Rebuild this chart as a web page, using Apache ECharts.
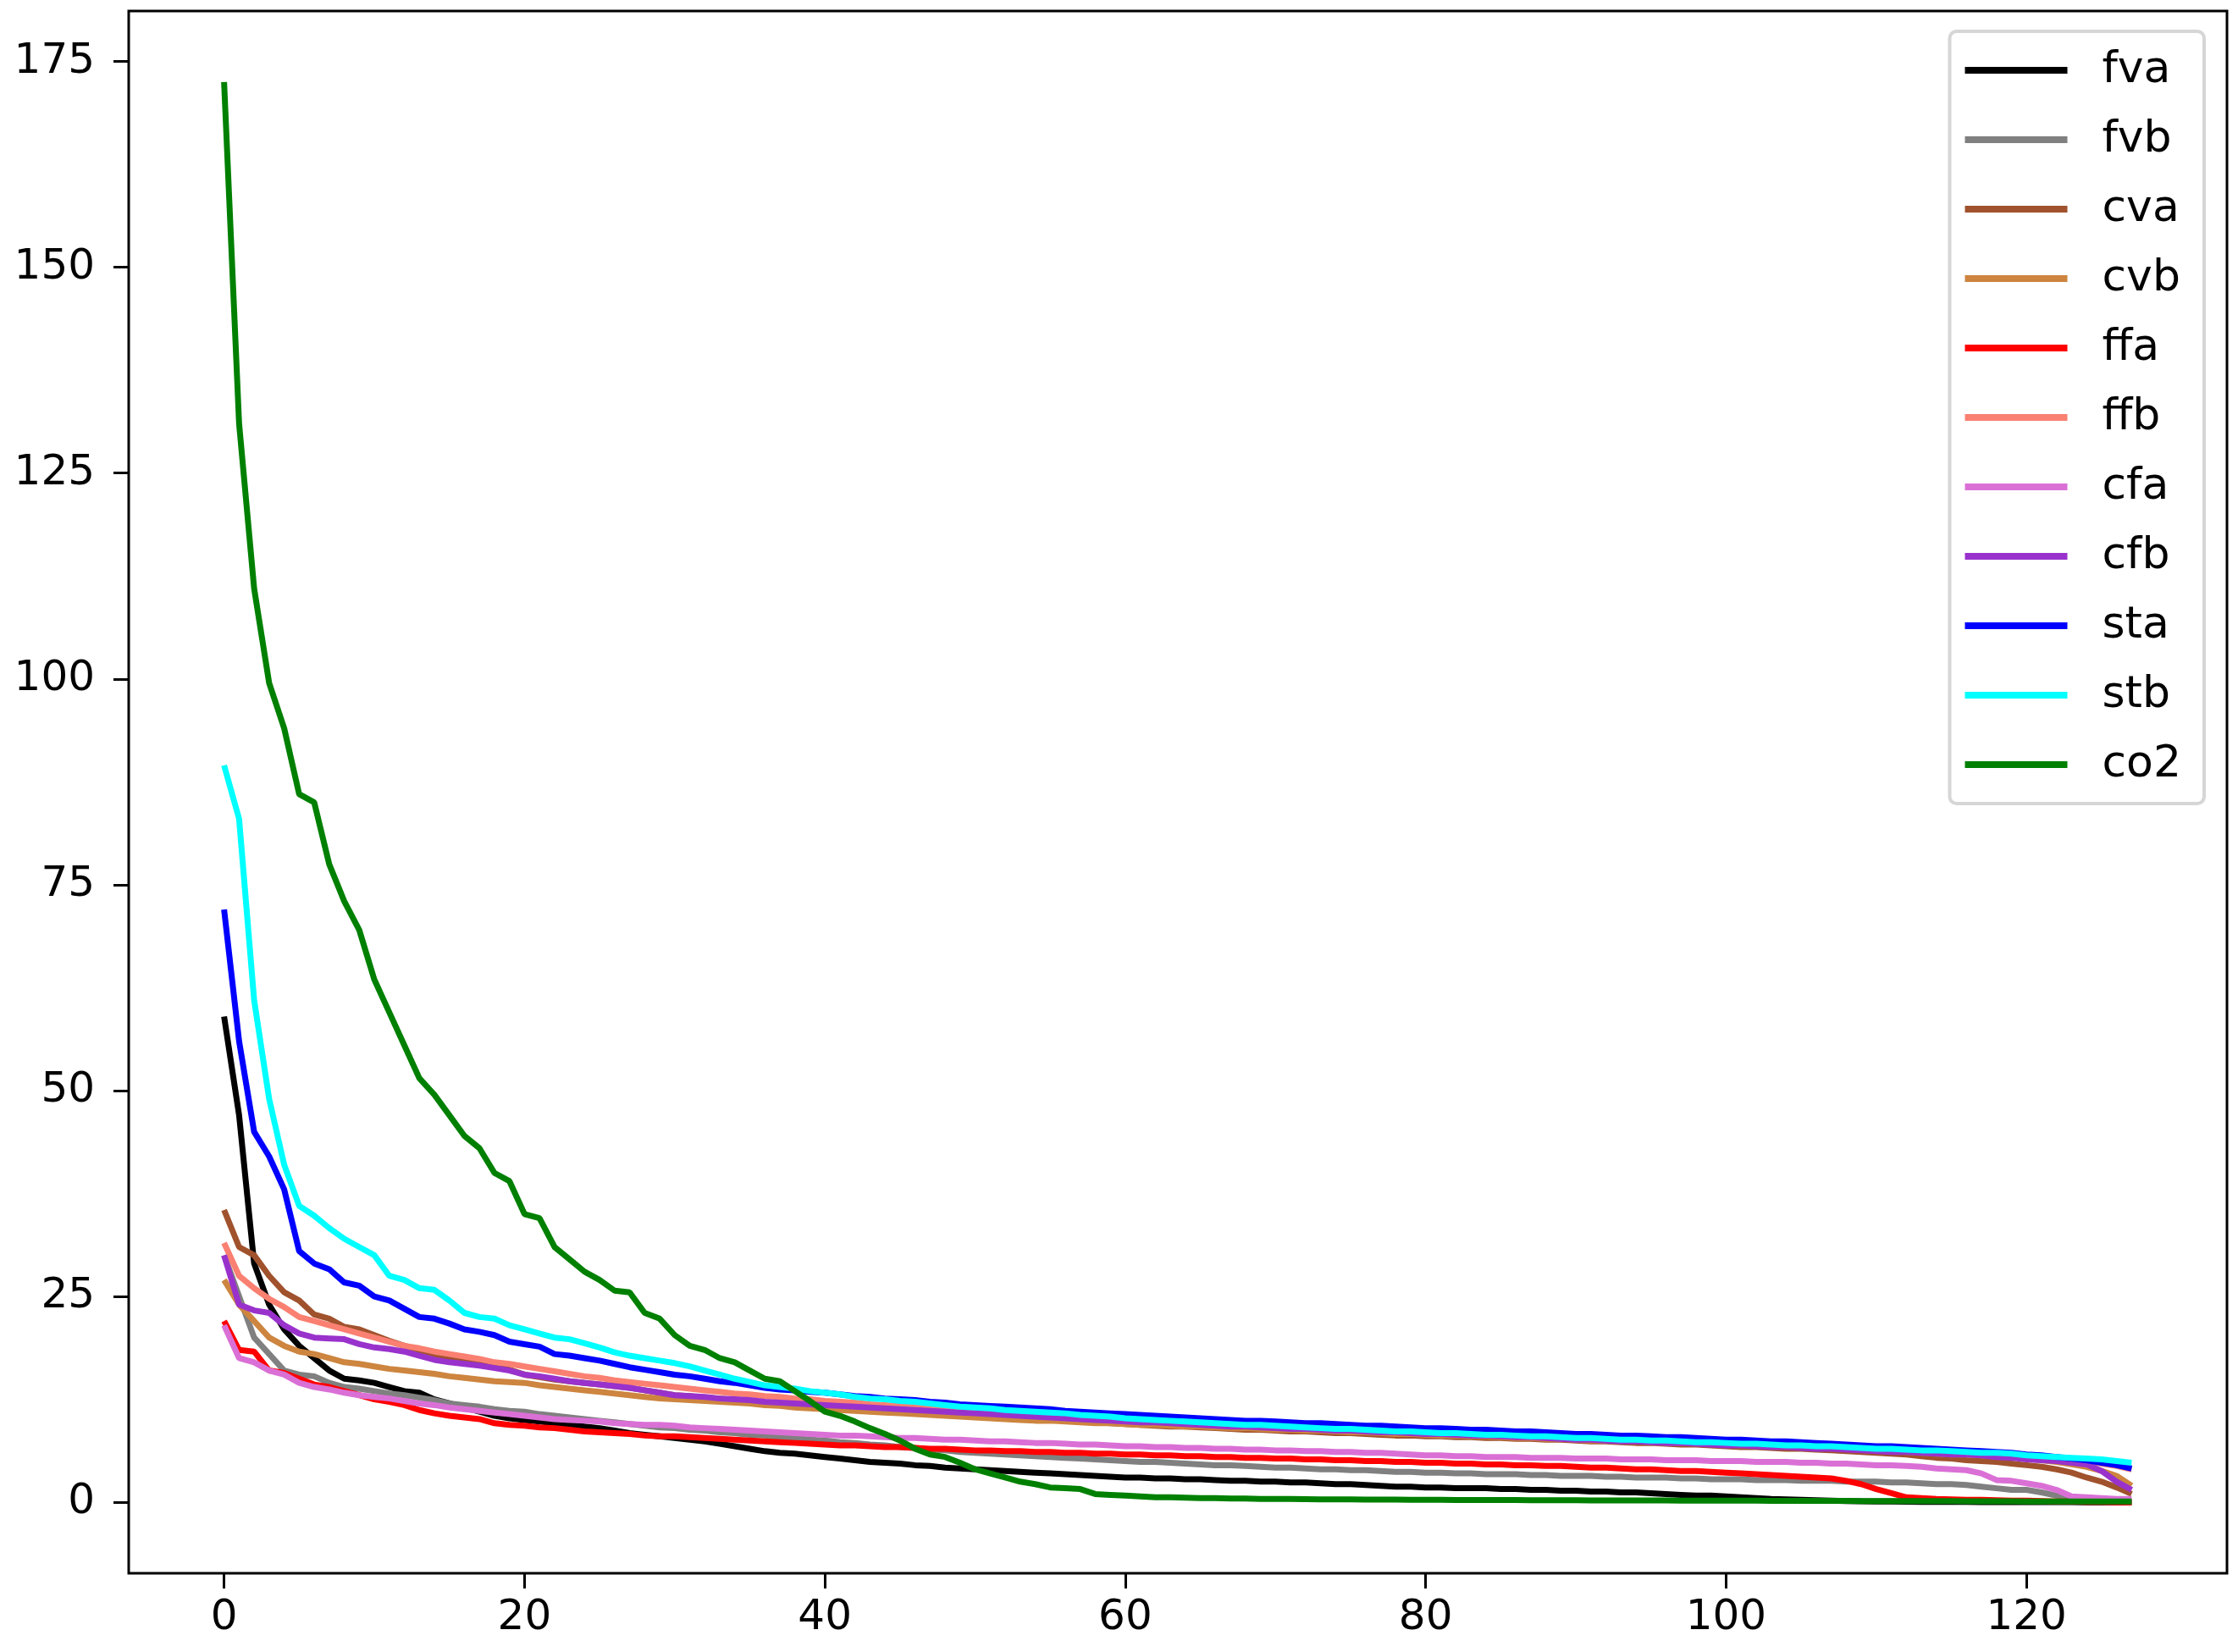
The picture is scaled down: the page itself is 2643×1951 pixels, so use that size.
<!DOCTYPE html>
<html>
<head>
<meta charset="utf-8">
<script src="https://cdn.jsdelivr.net/npm/echarts@6/dist/echarts.min.js"></script>
<style>
html, body { margin: 0; padding: 0; background: #fff; }
#chart { width: 2643px; height: 1951px; }
</style>
</head>
<body>
<div id="chart"></div>
<script>
const names = ['fva', 'fvb', 'cva', 'cvb', 'ffa', 'ffb', 'cfa', 'cfb', 'sta', 'stb', 'co2'];
const colors = ['#000000', '#808080', '#a0522d', '#cd853f', '#ff0000', '#fa8072', '#da70d6', '#9932cc', '#0000ff', '#00ffff', '#008000'];
const xTicks = [0, 20, 40, 60, 80, 100, 120];
const yTicks = [0, 25, 50, 75, 100, 125, 150, 175];

const fva = [59,47,29,24,21,19,17.5,16,15,14.8, 14.5,14,13.5,13.3,12.5,12,11.5,11,10.5,10.2,
  10,9.8,9.6,9.4,9.2,9,8.7,8.4,8.2,8, 7.8,7.6,7.4,7.1,6.8,6.5,6.2,6,5.9,5.7,
  5.5,5.3,5.1,4.9,4.8,4.7,4.5,4.4,4.2,4.1, 4,3.9,3.8,3.7,3.6,3.5,3.4,3.3,3.2,3.1,
  3,3,2.9,2.9,2.8,2.8,2.7,2.6,2.6,2.5, 2.5,2.4,2.4,2.3,2.2,2.2,2.1,2,1.9,1.9,
  1.8,1.8,1.7,1.7,1.7,1.6,1.6,1.5,1.5,1.4, 1.4,1.3,1.3,1.2,1.2,1.1,1,0.9,0.8,0.8,
  0.7,0.6,0.5,0.4,0.35,0.3,0.25,0.2,0.15,0.12, 0.1,0.08,0.06,0.05,0.04,0.03,0.03,0.02,0.02,0.02,
  0.01,0.01,0.01,0.01,0,0,0,0];
const fvb = [30,25,20,18,16,15.5,15.3,14.5,14,13.8, 13.5,13.2,13,12.7,12.4,12,11.8,11.6,11.3,11.1,
  11,10.7,10.5,10.3,10.1,9.9,9.7,9.5,9.3,9.1, 9,8.8,8.7,8.5,8.4,8.2,8.1,7.9,7.8,7.6,
  7.5,7.3,7.2,7,6.9,6.7,6.6,6.4,6.3,6.1, 6,5.9,5.8,5.7,5.6,5.5,5.4,5.3,5.2,5.1,
  5,4.9,4.9,4.8,4.7,4.6,4.5,4.5,4.4,4.3, 4.2,4.2,4.1,4,4,3.9,3.9,3.8,3.7,3.7,
  3.6,3.6,3.5,3.5,3.4,3.4,3.4,3.3,3.3,3.2, 3.2,3.2,3.1,3.1,3,3,3,2.9,2.9,2.8,
  2.8,2.8,2.7,2.7,2.7,2.6,2.6,2.6,2.5,2.5, 2.5,2.4,2.4,2.3,2.2,2.2,2.1,1.9,1.7,1.5,
  1.5,1.2,0.8,0.5,0.3,0.2,0.1,0];
const cva = [35.5,31,30,27.5,25.5,24.5,22.8,22.3,21.3,21, 20.3,19.6,19,18.5,18,17.5,17.2,16.9,16.5,16.1,
  15.5,15.2,14.9,14.7,14.5,14.3,14.1,13.9,13.6,13.3, 13,12.9,12.7,12.6,12.4,12.3,12.1,12,11.8,11.7,
  11.5,11.4,11.3,11.2,11.1,11,10.9,10.8,10.7,10.6, 10.5,10.4,10.3,10.2,10.1,10,9.9,9.8,9.7,9.6,
  9.5,9.4,9.3,9.2,9.2,9.1,9,8.9,8.8,8.8, 8.7,8.6,8.6,8.5,8.4,8.4,8.3,8.2,8.1,8.1,
  8,8,7.9,7.9,7.8,7.8,7.7,7.7,7.6,7.6, 7.5,7.4,7.4,7.3,7.2,7.2,7.1,7,7,6.9,
  6.8,6.7,6.7,6.6,6.5,6.5,6.4,6.3,6.2,6.1, 6,5.9,5.8,5.6,5.4,5.3,5.1,5,4.9,4.7,
  4.5,4.3,4,3.6,3,2.5,1.8,1];
const cvb = [27,24,22,20,19,18.3,18,17.5,17,16.8, 16.5,16.2,16,15.8,15.6,15.3,15.1,14.9,14.7,14.6,
  14.5,14.2,14,13.8,13.6,13.4,13.2,13,12.8,12.6, 12.5,12.4,12.3,12.2,12.1,12,11.8,11.7,11.5,11.4,
  11.3,11.2,11.1,11,10.9,10.8,10.7,10.6,10.5,10.4, 10.3,10.2,10.1,10,9.9,9.9,9.8,9.7,9.6,9.6,
  9.5,9.4,9.4,9.3,9.2,9.2,9.1,9,9,8.9, 8.8,8.8,8.7,8.7,8.6,8.5,8.5,8.4,8.3,8.3,
  8.2,8.1,8.1,8,8,7.9,7.8,7.8,7.7,7.7, 7.6,7.5,7.5,7.4,7.4,7.3,7.2,7.2,7.1,7.1,
  7,6.9,6.9,6.8,6.8,6.7,6.6,6.6,6.5,6.4, 6.3,6.2,6.1,6,5.9,5.8,5.8,5.7,5.6,5.5,
  5.3,5.1,4.9,4.6,4.3,3.8,3.2,2];
const ffa = [22,18.5,18.3,16,15.7,15,14.3,14,13.5,13, 12.5,12.2,11.8,11.2,10.8,10.5,10.3,10.1,9.6,9.4,
  9.3,9.1,9,8.8,8.6,8.5,8.4,8.3,8.1,8, 8,7.9,7.8,7.7,7.6,7.5,7.4,7.3,7.2,7.1,
  7,6.9,6.9,6.8,6.7,6.7,6.6,6.5,6.5,6.4, 6.3,6.3,6.2,6.2,6.1,6.1,6,6,5.9,5.9,
  5.8,5.8,5.7,5.7,5.6,5.6,5.5,5.5,5.4,5.4, 5.3,5.3,5.2,5.2,5.1,5.1,5,5,4.9,4.9,
  4.8,4.8,4.7,4.7,4.6,4.6,4.5,4.5,4.4,4.4, 4.3,4.2,4.2,4.1,4,4,3.9,3.8,3.8,3.7,
  3.6,3.5,3.4,3.3,3.2,3.1,3,2.9,2.6,2.2, 1.6,1.1,0.6,0.5,0.4,0.35,0.3,0.3,0.25,0.2,
  0.2,0.15,0.1,0.1,0.05,0.05,0,0];
const ffb = [31.5,27.5,26,24.7,23.7,22.5,22,21.5,21,20.5, 20,19.5,19,18.7,18.3,18,17.7,17.4,17,16.8,
  16.5,16.2,15.9,15.6,15.3,15.1,14.8,14.6,14.4,14.2, 14,13.8,13.6,13.4,13.2,13.1,12.9,12.8,12.6,12.5,
  12.3,12.2,12.1,11.9,11.8,11.7,11.5,11.4,11.2,11.1, 11,10.9,10.8,10.7,10.6,10.5,10.4,10.3,10.2,10.1,
  10,9.9,9.8,9.8,9.7,9.6,9.5,9.4,9.3,9.3, 9.2,9.1,9,9,8.9,8.8,8.8,8.7,8.6,8.6,
  8.5,8.4,8.4,8.3,8.2,8.2,8.1,8,8,7.9, 7.8,7.8,7.7,7.6,7.6,7.5,7.4,7.4,7.3,7.2,
  7.1,7.1,7,6.9,6.9,6.8,6.8,6.7,6.6,6.5, 6.4,6.4,6.3,6.2,6.2,6.1,6,5.9,5.8,5.7,
  5.6,5.4,5.3,5.1,5,4.7,4.4,4];
const cfa = [21.5,17.5,17,16,15.5,14.5,14,13.7,13.3,13, 12.8,12.6,12.3,12,11.8,11.5,11.3,11.1,10.9,10.7,
  10.5,10.3,10.1,10,9.9,9.8,9.6,9.5,9.4,9.4, 9.3,9.1,9,8.9,8.8,8.7,8.6,8.5,8.4,8.3,
  8.2,8.1,8.1,8,7.9,7.8,7.8,7.7,7.6,7.6, 7.5,7.4,7.4,7.3,7.2,7.2,7.1,7,7,6.9,
  6.8,6.8,6.7,6.7,6.6,6.6,6.5,6.5,6.4,6.4, 6.3,6.3,6.2,6.2,6.1,6.1,6,6,5.9,5.8,
  5.7,5.7,5.6,5.6,5.5,5.5,5.5,5.4,5.4,5.4, 5.3,5.3,5.3,5.2,5.2,5.2,5.1,5.1,5.1,5,
  5,5,4.9,4.9,4.9,4.8,4.8,4.7,4.7,4.6, 4.5,4.5,4.4,4.3,4.1,4,3.9,3.5,2.7,2.6,
  2.3,2,1.5,0.7,0.6,0.5,0.4,0.4];
const cfb = [30,24,23.3,23,21.5,20.5,20,19.9,19.8,19.2, 18.8,18.6,18.3,17.8,17.3,17,16.8,16.6,16.3,16,
  15.5,15.3,15,14.7,14.5,14.3,14.1,13.9,13.6,13.3, 13,12.9,12.8,12.6,12.5,12.4,12.2,12.1,12,11.9,
  11.8,11.7,11.6,11.5,11.4,11.3,11.2,11.1,11,10.9, 10.8,10.7,10.6,10.5,10.4,10.3,10.2,10.1,10,9.9,
  9.8,9.7,9.7,9.6,9.5,9.4,9.3,9.2,9.2,9.1, 9,8.9,8.9,8.8,8.7,8.7,8.6,8.5,8.5,8.4,
  8.3,8.3,8.2,8.1,8.1,8,7.9,7.9,7.8,7.7, 7.6,7.6,7.5,7.4,7.4,7.3,7.2,7.2,7.1,7,
  6.9,6.9,6.8,6.7,6.7,6.6,6.5,6.5,6.4,6.3, 6.2,6.1,6.1,6,5.9,5.8,5.8,5.7,5.5,5.4,
  5.2,5.1,5,4.8,4.6,3.8,2.5,1.5];
const sta = [72,56,45,42,38,30.5,29,28.3,26.7,26.3, 25,24.5,23.5,22.5,22.3,21.7,21,20.7,20.3,19.5,
  19.2,18.9,18,17.8,17.5,17.2,16.8,16.4,16.1,15.8, 15.5,15.3,15,14.7,14.5,14.2,13.9,13.7,13.6,13.4,
  13.3,13.1,12.9,12.8,12.6,12.5,12.4,12.2,12.1,11.9, 11.8,11.7,11.6,11.5,11.4,11.3,11.1,11,10.9,10.8,
  10.7,10.6,10.5,10.4,10.3,10.2,10.1,10,9.9,9.9, 9.8,9.7,9.6,9.6,9.5,9.4,9.3,9.3,9.2,9.1,
  9,9,8.9,8.8,8.8,8.7,8.6,8.6,8.5,8.4, 8.3,8.3,8.2,8.1,8.1,8,7.9,7.9,7.8,7.7,
  7.6,7.6,7.5,7.4,7.4,7.3,7.2,7.1,7,6.9, 6.8,6.8,6.7,6.6,6.5,6.4,6.3,6.2,6.1,6,
  5.8,5.7,5.5,5.3,5.1,4.8,4.5,4.1];
const stb = [89.5,83,61,49,41,36,34.8,33.3,32,31, 30,27.5,27,26,25.8,24.5,23,22.5,22.3,21.5,
  21,20.5,20,19.8,19.3,18.8,18.2,17.8,17.5,17.2, 16.9,16.5,16,15.5,15,14.6,14.2,14,13.8,13.5,
  13.3,13.1,12.8,12.6,12.5,12.3,12.2,12,11.8,11.6, 11.5,11.4,11.2,11.1,11,10.9,10.8,10.6,10.5,10.4,
  10.2,10.1,10,9.9,9.8,9.7,9.6,9.5,9.4,9.4, 9.3,9.2,9.1,9,8.9,8.9,8.8,8.7,8.6,8.6,
  8.5,8.4,8.4,8.3,8.2,8.2,8.1,8,8,7.9, 7.8,7.8,7.7,7.6,7.6,7.5,7.5,7.4,7.3,7.3,
  7.2,7.1,7.1,7,6.9,6.9,6.8,6.8,6.7,6.6, 6.5,6.5,6.4,6.3,6.3,6.2,6.1,6,6,5.9,
  5.7,5.6,5.5,5.4,5.3,5.2,5,4.8];
const co2 = [172.5,131,111,99.5,94,86,85,77.5,73,69.5, 63.5,59.5,55.5,51.5,49.5,47,44.5,43,40,39,
  35,34.5,31,29.5,28,27,25.7,25.5,23,22.3, 20.3,19,18.5,17.5,17,16,15,14.7,13.5,12.3,
  11,10.5,9.8,9,8.3,7.5,6.5,5.8,5.5,4.8, 4,3.5,3,2.5,2.2,1.8,1.7,1.6,1,0.9,
  0.8,0.7,0.6,0.6,0.55,0.5,0.5,0.45,0.45,0.4, 0.4,0.4,0.38,0.36,0.35,0.34,0.33,0.32,0.31,0.3,
  0.3,0.29,0.28,0.27,0.27,0.26,0.26,0.25,0.25,0.24, 0.24,0.23,0.23,0.22,0.22,0.21,0.21,0.2,0.2,0.2,
  0.2,0.19,0.19,0.18,0.18,0.17,0.17,0.16,0.16,0.15, 0.15,0.15,0.14,0.14,0.13,0.13,0.12,0.12,0.11,0.11,
  0.1,0.1,0.1,0.09,0.09,0.08,0.08,0.08];

const allData = [fva, fvb, cva, cvb, ffa, ffb, cfa, cfb, sta, stb, co2];

const font = 'DejaVu Sans';
const axisCommon = {
    type: 'value',
    axisLine: { show: false, onZero: false },
    splitLine: { show: false },
    axisTick: { show: true, inside: false, length: 18, lineStyle: { color: '#000', width: 3 } },
    axisLabel: { color: '#000', fontSize: 50, fontFamily: font }
};

const option = {
    animation: false,
    backgroundColor: '#fff',
    color: colors,
    grid: {
        left: 152, right: 13, top: 13, bottom: 93,
        show: true, borderColor: '#000', borderWidth: 3, backgroundColor: 'transparent'
    },
    xAxis: Object.assign({}, axisCommon, {
        min: -6.35, max: 133.35,
        axisTick: Object.assign({}, axisCommon.axisTick, { customValues: xTicks }),
        axisLabel: Object.assign({}, axisCommon.axisLabel, { customValues: xTicks, margin: 28 })
    }),
    yAxis: Object.assign({}, axisCommon, {
        min: -8.625, max: 181.125,
        axisTick: Object.assign({}, axisCommon.axisTick, { customValues: yTicks }),
        axisLabel: Object.assign({}, axisCommon.axisLabel, { customValues: yTicks, margin: 40 })
    }),
    legend: {
        data: names,
        orient: 'vertical',
        right: 40,
        top: 37,
        padding: [20, 27, 20, 18],
        itemWidth: 121,
        itemHeight: 8,
        itemGap: 30,
        icon: 'rect',
        backgroundColor: '#fff',
        borderColor: '#d6d6d6',
        borderWidth: 4,
        borderRadius: 8,
        textStyle: { color: '#000', fontSize: 52, fontFamily: font, padding: [0, 0, 0, 36], lineHeight: 52 }
    },
    series: names.map((n, k) => ({
        name: n,
        type: 'line',
        showSymbol: false,
        symbol: 'none',
        lineStyle: { width: 7, color: colors[k] },
        itemStyle: { color: colors[k] },
        data: allData[k].map((v, i) => [i, v])
    }))
};

const chart = echarts.init(document.getElementById('chart'));
chart.setOption(option);
</script>
</body>
</html>
